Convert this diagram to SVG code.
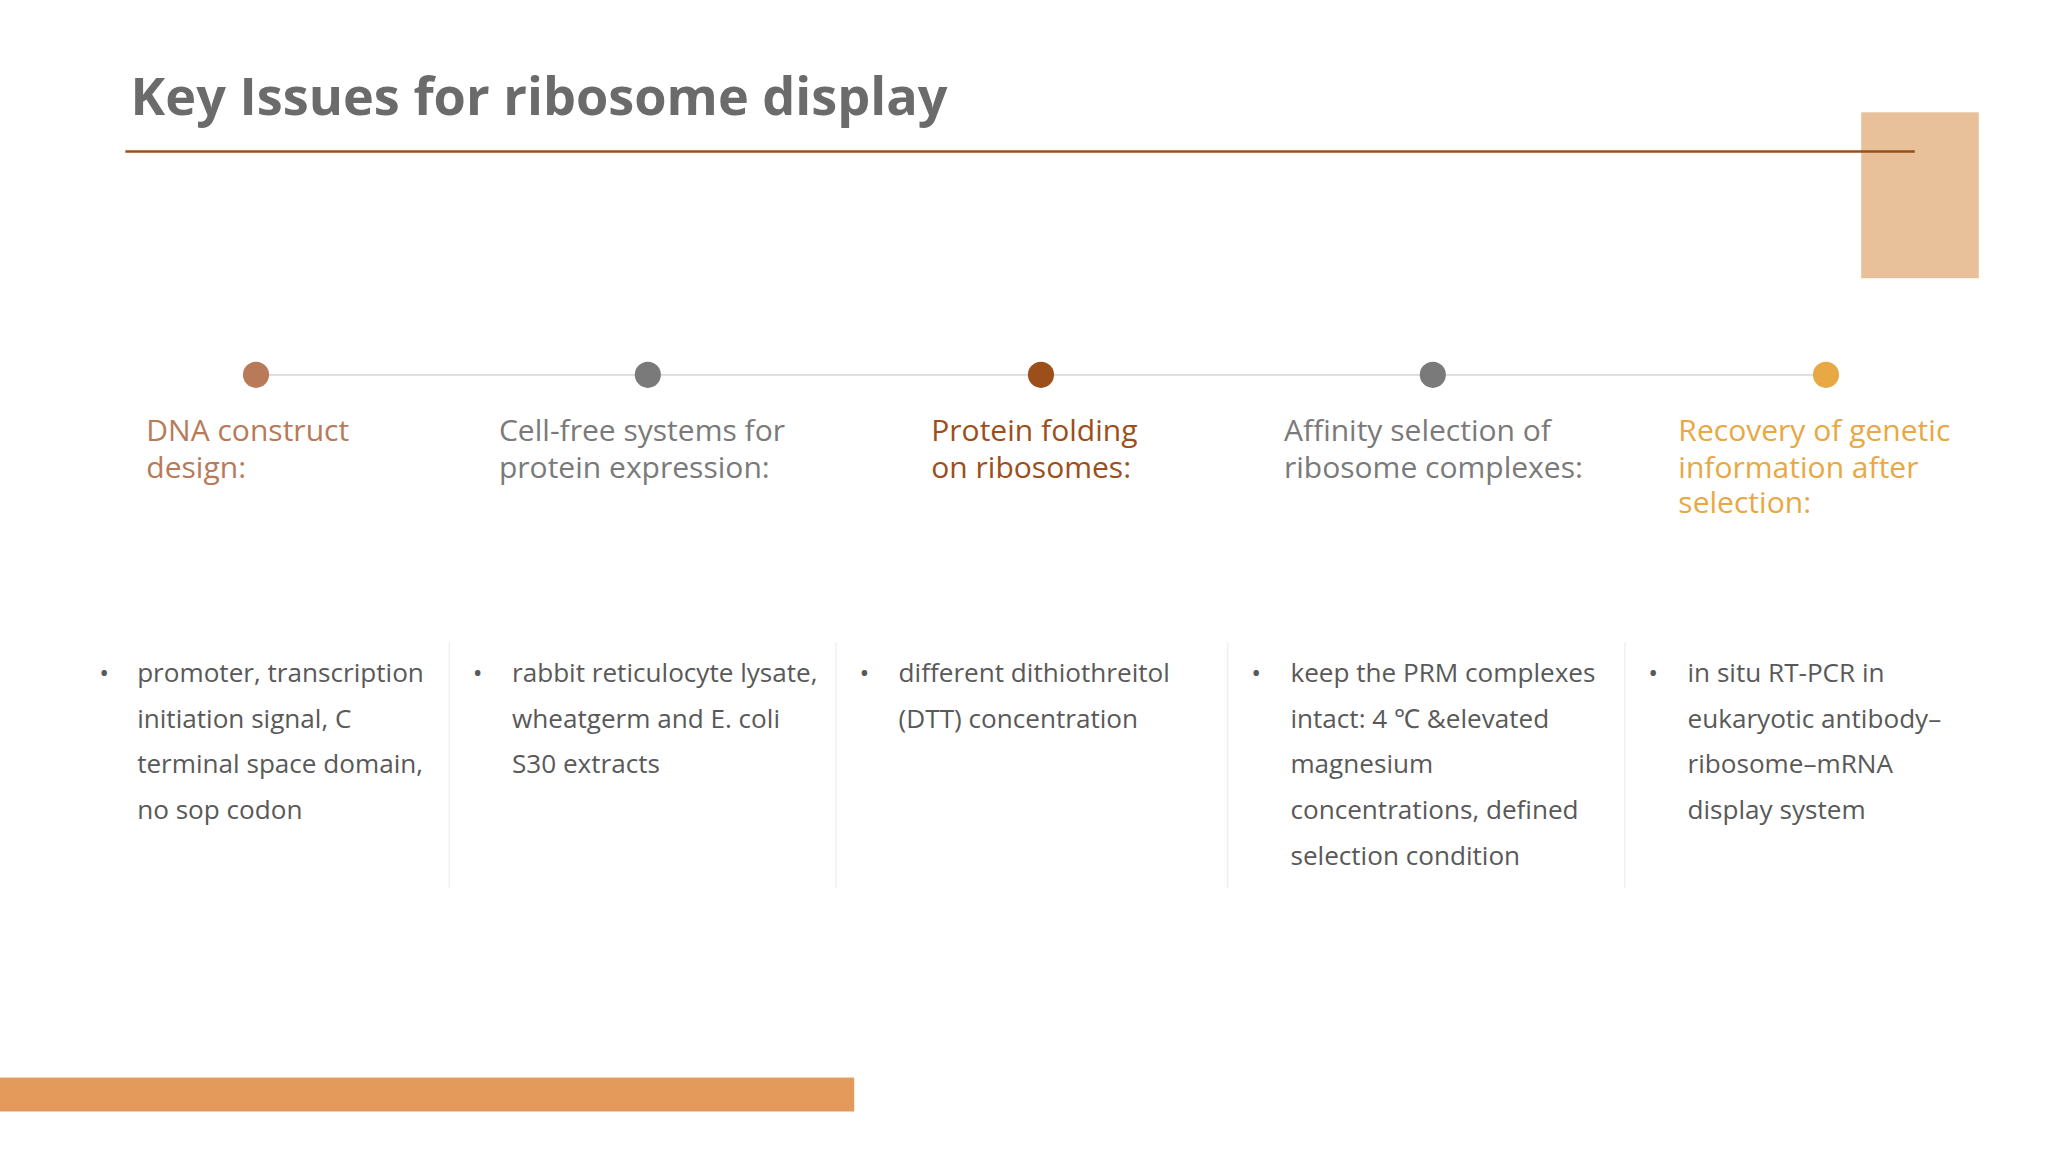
<svg xmlns="http://www.w3.org/2000/svg" width="2048" height="1152" viewBox="0 0 2048 1152">
<style>
text{font-family:"Open Sans","Noto Sans",sans-serif}
.h{font-size:23px}
.b{font-size:20px;fill:#595959}
.dv{stroke:#efefef;stroke-width:1}
</style>
<rect width="2048" height="1152" fill="#fff"/>
<g transform="scale(1.30612)">
<g id="title"><text x="100" y="88" font-size="40" font-weight="bold" fill="#6b6b6b">Key Issues for ribosome display</text></g>
<rect x="1425" y="86" width="90" height="127" fill="#e8c09a"/>
<line x1="96" y1="116" x2="1466" y2="116" stroke="#9b4f1a" stroke-width="2"/>
<rect x="0" y="825" width="654" height="26" fill="#e39a5a"/>
<g id="connectors"><line x1="196" y1="287" x2="1398" y2="287" stroke="#d9d9d9" stroke-width="1.5"/></g>
<g class="dv"><line x1="344" y1="492" x2="344" y2="680"/><line x1="640" y1="492" x2="640" y2="680"/><line x1="940" y1="492" x2="940" y2="680"/><line x1="1244" y1="492" x2="1244" y2="680"/></g>
<g id="n1"><circle cx="196" cy="287" r="10" fill="#b87a58"/><text class="h" fill="#b87a58"><tspan x="112" y="338">DNA construct</tspan><tspan x="112" y="366">design:</tspan></text>
<text class="b"><tspan x="76" y="522">•</tspan><tspan x="105" y="522">promoter, transcription</tspan><tspan x="105" y="557">initiation signal, C</tspan><tspan x="105" y="592">terminal space domain,</tspan><tspan x="105" y="627">no sop codon</tspan></text></g>
<g id="n2"><circle cx="496" cy="287" r="10" fill="#7a7a7a"/><text class="h" fill="#7a7a7a"><tspan x="382" y="338">Cell-free systems for</tspan><tspan x="382" y="366">protein expression:</tspan></text>
<text class="b"><tspan x="362" y="522">•</tspan><tspan x="392" y="522">rabbit reticulocyte lysate,</tspan><tspan x="392" y="557">wheatgerm and E. coli</tspan><tspan x="392" y="592">S30 extracts</tspan></text></g>
<g id="n3"><circle cx="797" cy="287" r="10" fill="#9c4f1b"/><text class="h" fill="#9c4f1b"><tspan x="713" y="338">Protein folding</tspan><tspan x="713" y="366">on ribosomes:</tspan></text>
<text class="b"><tspan x="658" y="522">•</tspan><tspan x="688" y="522">different dithiothreitol</tspan><tspan x="688" y="557">(DTT) concentration</tspan></text></g>
<g id="n4"><circle cx="1097" cy="287" r="10" fill="#7a7a7a"/><text class="h" fill="#7a7a7a"><tspan x="983" y="338">Affinity selection of</tspan><tspan x="983" y="366">ribosome complexes:</tspan></text>
<text class="b"><tspan x="958" y="522">•</tspan><tspan x="988" y="522">keep the PRM complexes</tspan><tspan x="988" y="557">intact: 4 ℃ &amp;elevated</tspan><tspan x="988" y="592">magnesium</tspan><tspan x="988" y="627">concentrations, defined</tspan><tspan x="988" y="662">selection condition</tspan></text></g>
<g id="n5"><circle cx="1398" cy="287" r="10" fill="#e8a843"/><text class="h" fill="#e8a843"><tspan x="1285" y="338">Recovery of genetic</tspan><tspan x="1285" y="366">information after</tspan><tspan x="1285" y="393">selection:</tspan></text>
<text class="b"><tspan x="1262" y="522">•</tspan><tspan x="1292" y="522">in situ RT-PCR in</tspan><tspan x="1292" y="557">eukaryotic antibody–</tspan><tspan x="1292" y="592">ribosome–mRNA</tspan><tspan x="1292" y="627">display system</tspan></text></g>
</g>
</svg>
